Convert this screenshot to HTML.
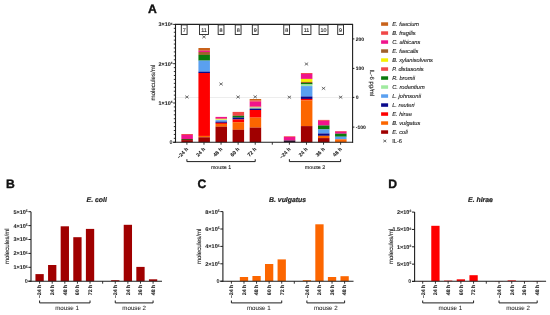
<!DOCTYPE html>
<html><head><meta charset="utf-8"><title>Figure</title>
<style>
html,body{margin:0;padding:0;background:#fff;}
body{width:550px;height:315px;overflow:hidden;}
svg{display:block;font-family:'Liberation Sans', Arial, sans-serif;text-rendering:geometricPrecision;filter:blur(0.3px);}
</style></head>
<body>
<svg width="550" height="315" viewBox="0 0 550 315">
<rect x="0" y="0" width="550" height="315" fill="#fff"/>
<text x="148.10" y="13.40" font-size="12.2" text-anchor="start" font-weight="bold" font-style="normal" fill="#111" stroke="#111" stroke-width="0.35" >A</text>
<line x1="175.50" y1="97.50" x2="352.60" y2="97.50" stroke="#e8e8e8" stroke-width="0.8"/>
<rect x="181.35" y="134.00" width="11.50" height="0.95" fill="#f04848"/>
<rect x="181.35" y="134.90" width="11.50" height="4.15" fill="#f0148c"/>
<rect x="181.35" y="139.00" width="11.50" height="1.15" fill="#4a4a12"/>
<rect x="181.35" y="140.10" width="11.50" height="2.15" fill="#a00000"/>
<rect x="198.43" y="48.00" width="11.50" height="2.75" fill="#c8621a"/>
<rect x="198.43" y="50.70" width="11.50" height="1.35" fill="#f0148c"/>
<rect x="198.43" y="52.00" width="11.50" height="2.95" fill="#a0602a"/>
<rect x="198.43" y="54.90" width="11.50" height="5.75" fill="#0a7a0c"/>
<rect x="198.43" y="60.60" width="11.50" height="11.05" fill="#5aa0f0"/>
<rect x="198.43" y="71.60" width="11.50" height="1.45" fill="#0a0a8c"/>
<rect x="198.43" y="73.00" width="11.50" height="62.95" fill="#fe0000"/>
<rect x="198.43" y="135.90" width="11.50" height="1.45" fill="#fc6600"/>
<rect x="198.43" y="137.30" width="11.50" height="4.95" fill="#a00000"/>
<rect x="215.51" y="116.90" width="11.50" height="1.95" fill="#f0148c"/>
<rect x="215.51" y="118.80" width="11.50" height="0.85" fill="#f5f000"/>
<rect x="215.51" y="119.60" width="11.50" height="0.65" fill="#a0eaa0"/>
<rect x="215.51" y="120.20" width="11.50" height="1.55" fill="#5aa0f0"/>
<rect x="215.51" y="121.70" width="11.50" height="1.15" fill="#0a0a8c"/>
<rect x="215.51" y="122.80" width="11.50" height="1.15" fill="#fe0000"/>
<rect x="215.51" y="123.90" width="11.50" height="2.85" fill="#fc6600"/>
<rect x="215.51" y="126.70" width="11.50" height="15.55" fill="#a00000"/>
<rect x="232.59" y="111.90" width="11.50" height="3.95" fill="#f04848"/>
<rect x="232.59" y="115.80" width="11.50" height="1.85" fill="#0a7a0c"/>
<rect x="232.59" y="117.60" width="11.50" height="1.85" fill="#0a0a8c"/>
<rect x="232.59" y="119.40" width="11.50" height="2.85" fill="#fe0000"/>
<rect x="232.59" y="122.20" width="11.50" height="7.65" fill="#fc6600"/>
<rect x="232.59" y="129.80" width="11.50" height="12.45" fill="#a00000"/>
<rect x="249.67" y="99.00" width="11.50" height="1.65" fill="#c8621a"/>
<rect x="249.67" y="100.60" width="11.50" height="1.15" fill="#f04848"/>
<rect x="249.67" y="101.70" width="11.50" height="4.75" fill="#f0148c"/>
<rect x="249.67" y="106.40" width="11.50" height="1.05" fill="#f04848"/>
<rect x="249.67" y="107.40" width="11.50" height="1.25" fill="#a0eaa0"/>
<rect x="249.67" y="108.60" width="11.50" height="1.45" fill="#0a0a8c"/>
<rect x="249.67" y="110.00" width="11.50" height="7.65" fill="#fe0000"/>
<rect x="249.67" y="117.60" width="11.50" height="10.05" fill="#fc6600"/>
<rect x="249.67" y="127.60" width="11.50" height="14.65" fill="#a00000"/>
<rect x="283.83" y="136.30" width="11.50" height="0.75" fill="#f04848"/>
<rect x="283.83" y="137.00" width="11.50" height="3.55" fill="#f0148c"/>
<rect x="283.83" y="140.50" width="11.50" height="1.75" fill="#2a0a28"/>
<rect x="300.91" y="73.00" width="11.50" height="0.95" fill="#f04848"/>
<rect x="300.91" y="73.90" width="11.50" height="5.05" fill="#f0148c"/>
<rect x="300.91" y="78.90" width="11.50" height="3.05" fill="#f5f000"/>
<rect x="300.91" y="81.90" width="11.50" height="1.15" fill="#a0602a"/>
<rect x="300.91" y="83.00" width="11.50" height="1.45" fill="#0a7a0c"/>
<rect x="300.91" y="84.40" width="11.50" height="1.75" fill="#a0eaa0"/>
<rect x="300.91" y="86.10" width="11.50" height="10.45" fill="#5aa0f0"/>
<rect x="300.91" y="96.50" width="11.50" height="2.45" fill="#0a0a8c"/>
<rect x="300.91" y="98.90" width="11.50" height="1.45" fill="#fe0000"/>
<rect x="300.91" y="100.30" width="11.50" height="25.85" fill="#fc6600"/>
<rect x="300.91" y="126.10" width="11.50" height="16.15" fill="#a00000"/>
<rect x="317.99" y="119.90" width="11.50" height="0.95" fill="#f04848"/>
<rect x="317.99" y="120.80" width="11.50" height="4.75" fill="#f0148c"/>
<rect x="317.99" y="125.50" width="11.50" height="3.95" fill="#0a7a0c"/>
<rect x="317.99" y="129.40" width="11.50" height="4.15" fill="#5aa0f0"/>
<rect x="317.99" y="133.50" width="11.50" height="2.35" fill="#0a0a8c"/>
<rect x="317.99" y="135.80" width="11.50" height="2.35" fill="#fc6600"/>
<rect x="317.99" y="138.10" width="11.50" height="4.15" fill="#a00000"/>
<rect x="335.07" y="131.00" width="11.50" height="0.75" fill="#f04848"/>
<rect x="335.07" y="131.70" width="11.50" height="2.05" fill="#f0148c"/>
<rect x="335.07" y="133.70" width="11.50" height="3.05" fill="#0a7a0c"/>
<rect x="335.07" y="136.70" width="11.50" height="2.65" fill="#5aa0f0"/>
<rect x="335.07" y="139.30" width="11.50" height="2.95" fill="#fc6600"/>
<line x1="185.20" y1="95.64" x2="188.60" y2="98.36" stroke="#444" stroke-width="0.75"/>
<line x1="185.20" y1="98.36" x2="188.60" y2="95.64" stroke="#444" stroke-width="0.75"/>
<line x1="202.28" y1="35.54" x2="205.68" y2="38.26" stroke="#444" stroke-width="0.75"/>
<line x1="202.28" y1="38.26" x2="205.68" y2="35.54" stroke="#444" stroke-width="0.75"/>
<line x1="219.36" y1="82.64" x2="222.76" y2="85.36" stroke="#444" stroke-width="0.75"/>
<line x1="219.36" y1="85.36" x2="222.76" y2="82.64" stroke="#444" stroke-width="0.75"/>
<line x1="236.44" y1="95.64" x2="239.84" y2="98.36" stroke="#444" stroke-width="0.75"/>
<line x1="236.44" y1="98.36" x2="239.84" y2="95.64" stroke="#444" stroke-width="0.75"/>
<line x1="253.52" y1="95.44" x2="256.92" y2="98.16" stroke="#444" stroke-width="0.75"/>
<line x1="253.52" y1="98.16" x2="256.92" y2="95.44" stroke="#444" stroke-width="0.75"/>
<line x1="287.68" y1="95.84" x2="291.08" y2="98.56" stroke="#444" stroke-width="0.75"/>
<line x1="287.68" y1="98.56" x2="291.08" y2="95.84" stroke="#444" stroke-width="0.75"/>
<line x1="304.76" y1="62.64" x2="308.16" y2="65.36" stroke="#444" stroke-width="0.75"/>
<line x1="304.76" y1="65.36" x2="308.16" y2="62.64" stroke="#444" stroke-width="0.75"/>
<line x1="321.84" y1="87.04" x2="325.24" y2="89.76" stroke="#444" stroke-width="0.75"/>
<line x1="321.84" y1="89.76" x2="325.24" y2="87.04" stroke="#444" stroke-width="0.75"/>
<line x1="338.92" y1="95.84" x2="342.32" y2="98.56" stroke="#444" stroke-width="0.75"/>
<line x1="338.92" y1="98.56" x2="342.32" y2="95.84" stroke="#444" stroke-width="0.75"/>
<line x1="175.50" y1="24.40" x2="175.50" y2="142.70" stroke="#1e1e1e" stroke-width="1.1"/>
<line x1="352.60" y1="24.40" x2="352.60" y2="142.70" stroke="#1e1e1e" stroke-width="1.1"/>
<line x1="175.00" y1="24.40" x2="353.10" y2="24.40" stroke="#1e1e1e" stroke-width="1.1"/>
<line x1="173.20" y1="142.20" x2="353.10" y2="142.20" stroke="#1e1e1e" stroke-width="1.1"/>
<line x1="173.20" y1="142.30" x2="175.50" y2="142.30" stroke="#1e1e1e" stroke-width="1.0"/>
<line x1="173.80" y1="138.37" x2="175.50" y2="138.37" stroke="#1e1e1e" stroke-width="0.9"/>
<line x1="173.80" y1="134.44" x2="175.50" y2="134.44" stroke="#1e1e1e" stroke-width="0.9"/>
<line x1="173.80" y1="130.51" x2="175.50" y2="130.51" stroke="#1e1e1e" stroke-width="0.9"/>
<line x1="173.80" y1="126.58" x2="175.50" y2="126.58" stroke="#1e1e1e" stroke-width="0.9"/>
<line x1="173.80" y1="122.65" x2="175.50" y2="122.65" stroke="#1e1e1e" stroke-width="0.9"/>
<line x1="173.80" y1="118.72" x2="175.50" y2="118.72" stroke="#1e1e1e" stroke-width="0.9"/>
<line x1="173.80" y1="114.79" x2="175.50" y2="114.79" stroke="#1e1e1e" stroke-width="0.9"/>
<line x1="173.80" y1="110.86" x2="175.50" y2="110.86" stroke="#1e1e1e" stroke-width="0.9"/>
<line x1="173.80" y1="106.93" x2="175.50" y2="106.93" stroke="#1e1e1e" stroke-width="0.9"/>
<line x1="173.20" y1="103.00" x2="175.50" y2="103.00" stroke="#1e1e1e" stroke-width="1.0"/>
<line x1="173.80" y1="99.07" x2="175.50" y2="99.07" stroke="#1e1e1e" stroke-width="0.9"/>
<line x1="173.80" y1="95.14" x2="175.50" y2="95.14" stroke="#1e1e1e" stroke-width="0.9"/>
<line x1="173.80" y1="91.21" x2="175.50" y2="91.21" stroke="#1e1e1e" stroke-width="0.9"/>
<line x1="173.80" y1="87.28" x2="175.50" y2="87.28" stroke="#1e1e1e" stroke-width="0.9"/>
<line x1="173.80" y1="83.35" x2="175.50" y2="83.35" stroke="#1e1e1e" stroke-width="0.9"/>
<line x1="173.80" y1="79.42" x2="175.50" y2="79.42" stroke="#1e1e1e" stroke-width="0.9"/>
<line x1="173.80" y1="75.49" x2="175.50" y2="75.49" stroke="#1e1e1e" stroke-width="0.9"/>
<line x1="173.80" y1="71.56" x2="175.50" y2="71.56" stroke="#1e1e1e" stroke-width="0.9"/>
<line x1="173.80" y1="67.63" x2="175.50" y2="67.63" stroke="#1e1e1e" stroke-width="0.9"/>
<line x1="173.20" y1="63.70" x2="175.50" y2="63.70" stroke="#1e1e1e" stroke-width="1.0"/>
<line x1="173.80" y1="59.77" x2="175.50" y2="59.77" stroke="#1e1e1e" stroke-width="0.9"/>
<line x1="173.80" y1="55.84" x2="175.50" y2="55.84" stroke="#1e1e1e" stroke-width="0.9"/>
<line x1="173.80" y1="51.91" x2="175.50" y2="51.91" stroke="#1e1e1e" stroke-width="0.9"/>
<line x1="173.80" y1="47.98" x2="175.50" y2="47.98" stroke="#1e1e1e" stroke-width="0.9"/>
<line x1="173.80" y1="44.05" x2="175.50" y2="44.05" stroke="#1e1e1e" stroke-width="0.9"/>
<line x1="173.80" y1="40.12" x2="175.50" y2="40.12" stroke="#1e1e1e" stroke-width="0.9"/>
<line x1="173.80" y1="36.19" x2="175.50" y2="36.19" stroke="#1e1e1e" stroke-width="0.9"/>
<line x1="173.80" y1="32.26" x2="175.50" y2="32.26" stroke="#1e1e1e" stroke-width="0.9"/>
<line x1="173.80" y1="28.33" x2="175.50" y2="28.33" stroke="#1e1e1e" stroke-width="0.9"/>
<line x1="173.20" y1="24.40" x2="175.50" y2="24.40" stroke="#1e1e1e" stroke-width="1.0"/>
<text x="172.60" y="144.20" font-size="5.4" text-anchor="end" font-weight="bold" font-style="normal" fill="#1e1e1e" >0</text>
<text x="172.60" y="104.90" font-size="5.4" text-anchor="end" font-weight="bold" font-style="normal" fill="#1e1e1e" stroke="#1e1e1e" stroke-width="0.08" >1×10<tspan font-size="3.35" dy="-1.62">6</tspan></text>
<text x="172.60" y="65.60" font-size="5.4" text-anchor="end" font-weight="bold" font-style="normal" fill="#1e1e1e" stroke="#1e1e1e" stroke-width="0.08" >2×10<tspan font-size="3.35" dy="-1.62">6</tspan></text>
<text x="172.60" y="26.30" font-size="5.4" text-anchor="end" font-weight="bold" font-style="normal" fill="#1e1e1e" stroke="#1e1e1e" stroke-width="0.08" >3×10<tspan font-size="3.35" dy="-1.62">6</tspan></text>
<text transform="translate(155.0,82.6) rotate(-90)" font-size="6.1" text-anchor="middle" fill="#1e1e1e" stroke="#1e1e1e" stroke-width="0.12">molecules/ml</text>
<line x1="352.60" y1="38.90" x2="354.40" y2="38.90" stroke="#1e1e1e" stroke-width="1.0"/>
<text x="355.80" y="40.70" font-size="5.0" text-anchor="start" font-weight="bold" font-style="normal" fill="#1e1e1e" stroke="#1e1e1e" stroke-width="0.1" >200</text>
<line x1="352.60" y1="68.40" x2="354.40" y2="68.40" stroke="#1e1e1e" stroke-width="1.0"/>
<text x="355.80" y="70.20" font-size="5.0" text-anchor="start" font-weight="bold" font-style="normal" fill="#1e1e1e" stroke="#1e1e1e" stroke-width="0.1" >100</text>
<line x1="352.60" y1="97.40" x2="354.40" y2="97.40" stroke="#1e1e1e" stroke-width="1.0"/>
<text x="355.80" y="99.20" font-size="5.0" text-anchor="start" font-weight="bold" font-style="normal" fill="#1e1e1e" stroke="#1e1e1e" stroke-width="0.1" >0</text>
<line x1="352.60" y1="127.10" x2="354.40" y2="127.10" stroke="#1e1e1e" stroke-width="1.0"/>
<text x="355.80" y="128.90" font-size="5.0" text-anchor="start" font-weight="bold" font-style="normal" fill="#1e1e1e" stroke="#1e1e1e" stroke-width="0.1" >-100</text>
<text transform="translate(369.6,82.8) rotate(90)" font-size="6.0" text-anchor="middle" fill="#1e1e1e" stroke="#1e1e1e" stroke-width="0.12">IL-6 pg/ml</text>
<rect x="181.30" y="24.90" width="5.80" height="9.6" fill="#fff" stroke="#222" stroke-width="0.9"/>
<text x="184.20" y="32.00" font-size="5.4" text-anchor="middle" font-weight="normal" font-style="normal" fill="#222" stroke="#222" stroke-width="0.12" >7</text>
<rect x="199.53" y="24.90" width="8.90" height="9.6" fill="#fff" stroke="#222" stroke-width="0.9"/>
<text x="203.98" y="32.00" font-size="5.4" text-anchor="middle" font-weight="normal" font-style="normal" fill="#222" stroke="#222" stroke-width="0.12" >11</text>
<rect x="218.16" y="24.90" width="5.80" height="9.6" fill="#fff" stroke="#222" stroke-width="0.9"/>
<text x="221.06" y="32.00" font-size="5.4" text-anchor="middle" font-weight="normal" font-style="normal" fill="#222" stroke="#222" stroke-width="0.12" >8</text>
<rect x="235.24" y="24.90" width="5.80" height="9.6" fill="#fff" stroke="#222" stroke-width="0.9"/>
<text x="238.14" y="32.00" font-size="5.4" text-anchor="middle" font-weight="normal" font-style="normal" fill="#222" stroke="#222" stroke-width="0.12" >8</text>
<rect x="252.32" y="24.90" width="5.80" height="9.6" fill="#fff" stroke="#222" stroke-width="0.9"/>
<text x="255.22" y="32.00" font-size="5.4" text-anchor="middle" font-weight="normal" font-style="normal" fill="#222" stroke="#222" stroke-width="0.12" >9</text>
<rect x="283.78" y="24.90" width="5.80" height="9.6" fill="#fff" stroke="#222" stroke-width="0.9"/>
<text x="286.68" y="32.00" font-size="5.4" text-anchor="middle" font-weight="normal" font-style="normal" fill="#222" stroke="#222" stroke-width="0.12" >8</text>
<rect x="302.01" y="24.90" width="8.90" height="9.6" fill="#fff" stroke="#222" stroke-width="0.9"/>
<text x="306.46" y="32.00" font-size="5.4" text-anchor="middle" font-weight="normal" font-style="normal" fill="#222" stroke="#222" stroke-width="0.12" >11</text>
<rect x="319.09" y="24.90" width="8.90" height="9.6" fill="#fff" stroke="#222" stroke-width="0.9"/>
<text x="323.54" y="32.00" font-size="5.4" text-anchor="middle" font-weight="normal" font-style="normal" fill="#222" stroke="#222" stroke-width="0.12" >10</text>
<rect x="337.72" y="24.90" width="5.80" height="9.6" fill="#fff" stroke="#222" stroke-width="0.9"/>
<text x="340.62" y="32.00" font-size="5.4" text-anchor="middle" font-weight="normal" font-style="normal" fill="#222" stroke="#222" stroke-width="0.12" >9</text>
<line x1="186.90" y1="142.20" x2="186.90" y2="144.70" stroke="#1e1e1e" stroke-width="0.9"/>
<line x1="203.98" y1="142.20" x2="203.98" y2="144.70" stroke="#1e1e1e" stroke-width="0.9"/>
<line x1="221.06" y1="142.20" x2="221.06" y2="144.70" stroke="#1e1e1e" stroke-width="0.9"/>
<line x1="238.14" y1="142.20" x2="238.14" y2="144.70" stroke="#1e1e1e" stroke-width="0.9"/>
<line x1="255.22" y1="142.20" x2="255.22" y2="144.70" stroke="#1e1e1e" stroke-width="0.9"/>
<line x1="272.30" y1="142.20" x2="272.30" y2="144.70" stroke="#1e1e1e" stroke-width="0.9"/>
<line x1="289.38" y1="142.20" x2="289.38" y2="144.70" stroke="#1e1e1e" stroke-width="0.9"/>
<line x1="306.46" y1="142.20" x2="306.46" y2="144.70" stroke="#1e1e1e" stroke-width="0.9"/>
<line x1="323.54" y1="142.20" x2="323.54" y2="144.70" stroke="#1e1e1e" stroke-width="0.9"/>
<line x1="340.62" y1="142.20" x2="340.62" y2="144.70" stroke="#1e1e1e" stroke-width="0.9"/>
<text transform="translate(188.50,149.60) rotate(-45)" font-size="5.2" font-weight="bold" text-anchor="end" fill="#1e1e1e" stroke="#1e1e1e" stroke-width="0.1">&#8211;24 h</text>
<text transform="translate(205.58,149.60) rotate(-45)" font-size="5.2" font-weight="bold" text-anchor="end" fill="#1e1e1e" stroke="#1e1e1e" stroke-width="0.1">24 h</text>
<text transform="translate(222.66,149.60) rotate(-45)" font-size="5.2" font-weight="bold" text-anchor="end" fill="#1e1e1e" stroke="#1e1e1e" stroke-width="0.1">48 h</text>
<text transform="translate(239.74,149.60) rotate(-45)" font-size="5.2" font-weight="bold" text-anchor="end" fill="#1e1e1e" stroke="#1e1e1e" stroke-width="0.1">60 h</text>
<text transform="translate(256.82,149.60) rotate(-45)" font-size="5.2" font-weight="bold" text-anchor="end" fill="#1e1e1e" stroke="#1e1e1e" stroke-width="0.1">72 h</text>
<text transform="translate(290.98,149.60) rotate(-45)" font-size="5.2" font-weight="bold" text-anchor="end" fill="#1e1e1e" stroke="#1e1e1e" stroke-width="0.1">&#8211;24 h</text>
<text transform="translate(308.06,149.60) rotate(-45)" font-size="5.2" font-weight="bold" text-anchor="end" fill="#1e1e1e" stroke="#1e1e1e" stroke-width="0.1">24 h</text>
<text transform="translate(325.14,149.60) rotate(-45)" font-size="5.2" font-weight="bold" text-anchor="end" fill="#1e1e1e" stroke="#1e1e1e" stroke-width="0.1">36 h</text>
<text transform="translate(342.22,149.60) rotate(-45)" font-size="5.2" font-weight="bold" text-anchor="end" fill="#1e1e1e" stroke="#1e1e1e" stroke-width="0.1">48 h</text>
<polyline points="186.90,159.20 186.90,161.60 255.22,161.60 255.22,159.20" fill="none" stroke="#1e1e1e" stroke-width="1.0"/>
<polyline points="289.38,159.20 289.38,161.60 340.62,161.60 340.62,159.20" fill="none" stroke="#1e1e1e" stroke-width="1.0"/>
<text x="221.06" y="168.60" font-size="5.3" text-anchor="middle" font-weight="normal" font-style="normal" fill="#1e1e1e" stroke="#1e1e1e" stroke-width="0.12" >mouse 1</text>
<text x="315.00" y="168.60" font-size="5.3" text-anchor="middle" font-weight="normal" font-style="normal" fill="#1e1e1e" stroke="#1e1e1e" stroke-width="0.12" >mouse 2</text>
<rect x="381.10" y="22.30" width="7.00" height="3.50" fill="#c8621a"/>
<text x="392.20" y="26.00" font-size="5.7" text-anchor="start" font-weight="normal" font-style="italic" fill="#1e1e1e" stroke="#1e1e1e" stroke-width="0.12" >E. faecium</text>
<rect x="381.10" y="31.30" width="7.00" height="3.50" fill="#f04848"/>
<text x="392.20" y="35.00" font-size="5.7" text-anchor="start" font-weight="normal" font-style="italic" fill="#1e1e1e" stroke="#1e1e1e" stroke-width="0.12" >B. fragilis</text>
<rect x="381.10" y="40.30" width="7.00" height="3.50" fill="#f0148c"/>
<text x="392.20" y="44.00" font-size="5.7" text-anchor="start" font-weight="normal" font-style="italic" fill="#1e1e1e" stroke="#1e1e1e" stroke-width="0.12" >C. albicans</text>
<rect x="381.10" y="49.30" width="7.00" height="3.50" fill="#a0602a"/>
<text x="392.20" y="53.00" font-size="5.7" text-anchor="start" font-weight="normal" font-style="italic" fill="#1e1e1e" stroke="#1e1e1e" stroke-width="0.12" >E. faecalis</text>
<rect x="381.10" y="58.30" width="7.00" height="3.50" fill="#f5f000"/>
<text x="392.20" y="62.00" font-size="5.7" text-anchor="start" font-weight="normal" font-style="italic" fill="#1e1e1e" stroke="#1e1e1e" stroke-width="0.12" >B. xylanisolvens</text>
<rect x="381.10" y="67.30" width="7.00" height="3.50" fill="#f04848"/>
<text x="392.20" y="71.00" font-size="5.7" text-anchor="start" font-weight="normal" font-style="italic" fill="#1e1e1e" stroke="#1e1e1e" stroke-width="0.12" >P. distasonis</text>
<rect x="381.10" y="76.30" width="7.00" height="3.50" fill="#0a7a0c"/>
<text x="392.20" y="80.00" font-size="5.7" text-anchor="start" font-weight="normal" font-style="italic" fill="#1e1e1e" stroke="#1e1e1e" stroke-width="0.12" >R. bromii</text>
<rect x="381.10" y="85.30" width="7.00" height="3.50" fill="#a0eaa0"/>
<text x="392.20" y="89.00" font-size="5.7" text-anchor="start" font-weight="normal" font-style="italic" fill="#1e1e1e" stroke="#1e1e1e" stroke-width="0.12" >C. rodentium</text>
<rect x="381.10" y="94.30" width="7.00" height="3.50" fill="#5aa0f0"/>
<text x="392.20" y="98.00" font-size="5.7" text-anchor="start" font-weight="normal" font-style="italic" fill="#1e1e1e" stroke="#1e1e1e" stroke-width="0.12" >L. johnsonii</text>
<rect x="381.10" y="103.30" width="7.00" height="3.50" fill="#0a0a8c"/>
<text x="392.20" y="107.00" font-size="5.7" text-anchor="start" font-weight="normal" font-style="italic" fill="#1e1e1e" stroke="#1e1e1e" stroke-width="0.12" >L. reuteri</text>
<rect x="381.10" y="112.30" width="7.00" height="3.50" fill="#fe0000"/>
<text x="392.20" y="116.00" font-size="5.7" text-anchor="start" font-weight="normal" font-style="italic" fill="#1e1e1e" stroke="#1e1e1e" stroke-width="0.12" >E. hirae</text>
<rect x="381.10" y="121.30" width="7.00" height="3.50" fill="#fc6600"/>
<text x="392.20" y="125.00" font-size="5.7" text-anchor="start" font-weight="normal" font-style="italic" fill="#1e1e1e" stroke="#1e1e1e" stroke-width="0.12" >B. vulgatus</text>
<rect x="381.10" y="130.30" width="7.00" height="3.50" fill="#a00000"/>
<text x="392.20" y="134.00" font-size="5.7" text-anchor="start" font-weight="normal" font-style="italic" fill="#1e1e1e" stroke="#1e1e1e" stroke-width="0.12" >E. coli</text>
<line x1="383.30" y1="139.80" x2="386.30" y2="142.20" stroke="#333" stroke-width="0.7"/>
<line x1="383.30" y1="142.20" x2="386.30" y2="139.80" stroke="#333" stroke-width="0.7"/>
<text x="392.20" y="143.00" font-size="5.7" text-anchor="start" font-weight="normal" font-style="normal" fill="#1e1e1e" stroke="#1e1e1e" stroke-width="0.12" >IL-6</text>
<text x="6.00" y="188.40" font-size="12.2" text-anchor="start" font-weight="bold" font-style="normal" fill="#111" stroke="#111" stroke-width="0.35" >B</text>
<text x="96.70" y="202.40" font-size="6.9" text-anchor="middle" font-weight="bold" font-style="italic" fill="#1e1e1e" stroke="#1e1e1e" stroke-width="0.2" >E. coli</text>
<rect x="35.45" y="274.10" width="8.30" height="7.10" fill="#a00000"/>
<rect x="48.06" y="265.00" width="8.30" height="16.20" fill="#a00000"/>
<rect x="60.67" y="226.30" width="8.30" height="54.90" fill="#a00000"/>
<rect x="73.28" y="237.20" width="8.30" height="44.00" fill="#a00000"/>
<rect x="85.89" y="228.90" width="8.30" height="52.30" fill="#a00000"/>
<rect x="111.11" y="280.20" width="8.30" height="1.00" fill="#a00000"/>
<rect x="123.72" y="224.80" width="8.30" height="56.40" fill="#a00000"/>
<rect x="136.33" y="266.90" width="8.30" height="14.30" fill="#a00000"/>
<rect x="148.94" y="279.30" width="8.30" height="1.90" fill="#a00000"/>
<line x1="31.00" y1="211.70" x2="31.00" y2="281.70" stroke="#1e1e1e" stroke-width="1.1"/>
<line x1="28.40" y1="281.20" x2="161.99" y2="281.20" stroke="#1e1e1e" stroke-width="1.1"/>
<line x1="28.40" y1="281.20" x2="31.00" y2="281.20" stroke="#1e1e1e" stroke-width="1.0"/>
<line x1="28.40" y1="267.30" x2="31.00" y2="267.30" stroke="#1e1e1e" stroke-width="1.0"/>
<line x1="28.40" y1="253.40" x2="31.00" y2="253.40" stroke="#1e1e1e" stroke-width="1.0"/>
<line x1="28.40" y1="239.50" x2="31.00" y2="239.50" stroke="#1e1e1e" stroke-width="1.0"/>
<line x1="28.40" y1="225.60" x2="31.00" y2="225.60" stroke="#1e1e1e" stroke-width="1.0"/>
<line x1="28.40" y1="211.70" x2="31.00" y2="211.70" stroke="#1e1e1e" stroke-width="1.0"/>
<text x="27.70" y="283.10" font-size="5.5" text-anchor="end" font-weight="bold" font-style="normal" fill="#1e1e1e" >0</text>
<text x="27.70" y="269.20" font-size="5.5" text-anchor="end" font-weight="bold" font-style="normal" fill="#1e1e1e" stroke="#1e1e1e" stroke-width="0.08" >1×10<tspan font-size="3.41" dy="-1.65">5</tspan></text>
<text x="27.70" y="255.30" font-size="5.5" text-anchor="end" font-weight="bold" font-style="normal" fill="#1e1e1e" stroke="#1e1e1e" stroke-width="0.08" >2×10<tspan font-size="3.41" dy="-1.65">5</tspan></text>
<text x="27.70" y="241.40" font-size="5.5" text-anchor="end" font-weight="bold" font-style="normal" fill="#1e1e1e" stroke="#1e1e1e" stroke-width="0.08" >3×10<tspan font-size="3.41" dy="-1.65">5</tspan></text>
<text x="27.70" y="227.50" font-size="5.5" text-anchor="end" font-weight="bold" font-style="normal" fill="#1e1e1e" stroke="#1e1e1e" stroke-width="0.08" >4×10<tspan font-size="3.41" dy="-1.65">5</tspan></text>
<text x="27.70" y="213.60" font-size="5.5" text-anchor="end" font-weight="bold" font-style="normal" fill="#1e1e1e" stroke="#1e1e1e" stroke-width="0.08" >5×10<tspan font-size="3.41" dy="-1.65">5</tspan></text>
<text transform="translate(9.30,246.20) rotate(-90)" font-size="6.1" text-anchor="middle" fill="#1e1e1e" stroke="#1e1e1e" stroke-width="0.12">molecules/ml</text>
<line x1="39.60" y1="281.20" x2="39.60" y2="283.70" stroke="#1e1e1e" stroke-width="0.9"/>
<text transform="translate(41.40,284.80) rotate(-90)" font-size="5.2" font-weight="bold" text-anchor="end" fill="#1e1e1e" stroke="#1e1e1e" stroke-width="0.1">&#8211;24 h</text>
<line x1="52.21" y1="281.20" x2="52.21" y2="283.70" stroke="#1e1e1e" stroke-width="0.9"/>
<text transform="translate(54.01,284.80) rotate(-90)" font-size="5.2" font-weight="bold" text-anchor="end" fill="#1e1e1e" stroke="#1e1e1e" stroke-width="0.1">24 h</text>
<line x1="64.82" y1="281.20" x2="64.82" y2="283.70" stroke="#1e1e1e" stroke-width="0.9"/>
<text transform="translate(66.62,284.80) rotate(-90)" font-size="5.2" font-weight="bold" text-anchor="end" fill="#1e1e1e" stroke="#1e1e1e" stroke-width="0.1">48 h</text>
<line x1="77.43" y1="281.20" x2="77.43" y2="283.70" stroke="#1e1e1e" stroke-width="0.9"/>
<text transform="translate(79.23,284.80) rotate(-90)" font-size="5.2" font-weight="bold" text-anchor="end" fill="#1e1e1e" stroke="#1e1e1e" stroke-width="0.1">60 h</text>
<line x1="90.04" y1="281.20" x2="90.04" y2="283.70" stroke="#1e1e1e" stroke-width="0.9"/>
<text transform="translate(91.84,284.80) rotate(-90)" font-size="5.2" font-weight="bold" text-anchor="end" fill="#1e1e1e" stroke="#1e1e1e" stroke-width="0.1">72 h</text>
<line x1="102.65" y1="281.20" x2="102.65" y2="283.70" stroke="#1e1e1e" stroke-width="0.9"/>
<line x1="115.26" y1="281.20" x2="115.26" y2="283.70" stroke="#1e1e1e" stroke-width="0.9"/>
<text transform="translate(117.06,284.80) rotate(-90)" font-size="5.2" font-weight="bold" text-anchor="end" fill="#1e1e1e" stroke="#1e1e1e" stroke-width="0.1">&#8211;24 h</text>
<line x1="127.87" y1="281.20" x2="127.87" y2="283.70" stroke="#1e1e1e" stroke-width="0.9"/>
<text transform="translate(129.67,284.80) rotate(-90)" font-size="5.2" font-weight="bold" text-anchor="end" fill="#1e1e1e" stroke="#1e1e1e" stroke-width="0.1">24 h</text>
<line x1="140.48" y1="281.20" x2="140.48" y2="283.70" stroke="#1e1e1e" stroke-width="0.9"/>
<text transform="translate(142.28,284.80) rotate(-90)" font-size="5.2" font-weight="bold" text-anchor="end" fill="#1e1e1e" stroke="#1e1e1e" stroke-width="0.1">36 h</text>
<line x1="153.09" y1="281.20" x2="153.09" y2="283.70" stroke="#1e1e1e" stroke-width="0.9"/>
<text transform="translate(154.89,284.80) rotate(-90)" font-size="5.2" font-weight="bold" text-anchor="end" fill="#1e1e1e" stroke="#1e1e1e" stroke-width="0.1">48 h</text>
<polyline points="39.60,300.50 39.60,302.90 90.04,302.90 90.04,300.50" fill="none" stroke="#1e1e1e" stroke-width="1.0"/>
<polyline points="115.26,300.50 115.26,302.90 153.09,302.90 153.09,300.50" fill="none" stroke="#1e1e1e" stroke-width="1.0"/>
<text x="67.02" y="310.00" font-size="6.2" text-anchor="middle" font-weight="normal" font-style="normal" fill="#1e1e1e" stroke="#1e1e1e" stroke-width="0.05" >mouse 1</text>
<text x="134.18" y="310.00" font-size="6.2" text-anchor="middle" font-weight="normal" font-style="normal" fill="#1e1e1e" stroke="#1e1e1e" stroke-width="0.05" >mouse 2</text>
<text x="197.40" y="188.40" font-size="12.2" text-anchor="start" font-weight="bold" font-style="normal" fill="#111" stroke="#111" stroke-width="0.35" >C</text>
<text x="287.60" y="202.40" font-size="6.9" text-anchor="middle" font-weight="bold" font-style="italic" fill="#1e1e1e" stroke="#1e1e1e" stroke-width="0.2" >B. vulgatus</text>
<rect x="227.25" y="281.00" width="8.30" height="0.20" fill="#fc6600"/>
<rect x="239.83" y="277.00" width="8.30" height="4.20" fill="#fc6600"/>
<rect x="252.41" y="276.00" width="8.30" height="5.20" fill="#fc6600"/>
<rect x="264.99" y="264.00" width="8.30" height="17.20" fill="#fc6600"/>
<rect x="277.57" y="259.40" width="8.30" height="21.80" fill="#fc6600"/>
<rect x="302.73" y="280.20" width="8.30" height="1.00" fill="#fc6600"/>
<rect x="315.31" y="224.30" width="8.30" height="56.90" fill="#fc6600"/>
<rect x="327.89" y="277.00" width="8.30" height="4.20" fill="#fc6600"/>
<rect x="340.47" y="276.20" width="8.30" height="5.00" fill="#fc6600"/>
<line x1="222.90" y1="211.60" x2="222.90" y2="281.70" stroke="#1e1e1e" stroke-width="1.1"/>
<line x1="220.30" y1="281.20" x2="353.52" y2="281.20" stroke="#1e1e1e" stroke-width="1.1"/>
<line x1="220.30" y1="281.20" x2="222.90" y2="281.20" stroke="#1e1e1e" stroke-width="1.0"/>
<line x1="220.30" y1="263.80" x2="222.90" y2="263.80" stroke="#1e1e1e" stroke-width="1.0"/>
<line x1="220.30" y1="246.40" x2="222.90" y2="246.40" stroke="#1e1e1e" stroke-width="1.0"/>
<line x1="220.30" y1="229.00" x2="222.90" y2="229.00" stroke="#1e1e1e" stroke-width="1.0"/>
<line x1="220.30" y1="211.60" x2="222.90" y2="211.60" stroke="#1e1e1e" stroke-width="1.0"/>
<text x="219.60" y="283.10" font-size="5.5" text-anchor="end" font-weight="bold" font-style="normal" fill="#1e1e1e" >0</text>
<text x="219.60" y="265.70" font-size="5.5" text-anchor="end" font-weight="bold" font-style="normal" fill="#1e1e1e" stroke="#1e1e1e" stroke-width="0.08" >2×10<tspan font-size="3.41" dy="-1.65">5</tspan></text>
<text x="219.60" y="248.30" font-size="5.5" text-anchor="end" font-weight="bold" font-style="normal" fill="#1e1e1e" stroke="#1e1e1e" stroke-width="0.08" >4×10<tspan font-size="3.41" dy="-1.65">5</tspan></text>
<text x="219.60" y="230.90" font-size="5.5" text-anchor="end" font-weight="bold" font-style="normal" fill="#1e1e1e" stroke="#1e1e1e" stroke-width="0.08" >6×10<tspan font-size="3.41" dy="-1.65">5</tspan></text>
<text x="219.60" y="213.50" font-size="5.5" text-anchor="end" font-weight="bold" font-style="normal" fill="#1e1e1e" stroke="#1e1e1e" stroke-width="0.08" >8×10<tspan font-size="3.41" dy="-1.65">5</tspan></text>
<text transform="translate(201.00,246.30) rotate(-90)" font-size="6.1" text-anchor="middle" fill="#1e1e1e" stroke="#1e1e1e" stroke-width="0.12">molecules/ml</text>
<line x1="231.40" y1="281.20" x2="231.40" y2="283.70" stroke="#1e1e1e" stroke-width="0.9"/>
<text transform="translate(233.20,284.80) rotate(-90)" font-size="5.2" font-weight="bold" text-anchor="end" fill="#1e1e1e" stroke="#1e1e1e" stroke-width="0.1">&#8211;24 h</text>
<line x1="243.98" y1="281.20" x2="243.98" y2="283.70" stroke="#1e1e1e" stroke-width="0.9"/>
<text transform="translate(245.78,284.80) rotate(-90)" font-size="5.2" font-weight="bold" text-anchor="end" fill="#1e1e1e" stroke="#1e1e1e" stroke-width="0.1">24 h</text>
<line x1="256.56" y1="281.20" x2="256.56" y2="283.70" stroke="#1e1e1e" stroke-width="0.9"/>
<text transform="translate(258.36,284.80) rotate(-90)" font-size="5.2" font-weight="bold" text-anchor="end" fill="#1e1e1e" stroke="#1e1e1e" stroke-width="0.1">48 h</text>
<line x1="269.14" y1="281.20" x2="269.14" y2="283.70" stroke="#1e1e1e" stroke-width="0.9"/>
<text transform="translate(270.94,284.80) rotate(-90)" font-size="5.2" font-weight="bold" text-anchor="end" fill="#1e1e1e" stroke="#1e1e1e" stroke-width="0.1">60 h</text>
<line x1="281.72" y1="281.20" x2="281.72" y2="283.70" stroke="#1e1e1e" stroke-width="0.9"/>
<text transform="translate(283.52,284.80) rotate(-90)" font-size="5.2" font-weight="bold" text-anchor="end" fill="#1e1e1e" stroke="#1e1e1e" stroke-width="0.1">72 h</text>
<line x1="294.30" y1="281.20" x2="294.30" y2="283.70" stroke="#1e1e1e" stroke-width="0.9"/>
<line x1="306.88" y1="281.20" x2="306.88" y2="283.70" stroke="#1e1e1e" stroke-width="0.9"/>
<text transform="translate(308.68,284.80) rotate(-90)" font-size="5.2" font-weight="bold" text-anchor="end" fill="#1e1e1e" stroke="#1e1e1e" stroke-width="0.1">&#8211;24 h</text>
<line x1="319.46" y1="281.20" x2="319.46" y2="283.70" stroke="#1e1e1e" stroke-width="0.9"/>
<text transform="translate(321.26,284.80) rotate(-90)" font-size="5.2" font-weight="bold" text-anchor="end" fill="#1e1e1e" stroke="#1e1e1e" stroke-width="0.1">24 h</text>
<line x1="332.04" y1="281.20" x2="332.04" y2="283.70" stroke="#1e1e1e" stroke-width="0.9"/>
<text transform="translate(333.84,284.80) rotate(-90)" font-size="5.2" font-weight="bold" text-anchor="end" fill="#1e1e1e" stroke="#1e1e1e" stroke-width="0.1">36 h</text>
<line x1="344.62" y1="281.20" x2="344.62" y2="283.70" stroke="#1e1e1e" stroke-width="0.9"/>
<text transform="translate(346.42,284.80) rotate(-90)" font-size="5.2" font-weight="bold" text-anchor="end" fill="#1e1e1e" stroke="#1e1e1e" stroke-width="0.1">48 h</text>
<polyline points="231.40,300.50 231.40,302.90 281.72,302.90 281.72,300.50" fill="none" stroke="#1e1e1e" stroke-width="1.0"/>
<polyline points="306.88,300.50 306.88,302.90 344.62,302.90 344.62,300.50" fill="none" stroke="#1e1e1e" stroke-width="1.0"/>
<text x="258.76" y="310.00" font-size="6.2" text-anchor="middle" font-weight="normal" font-style="normal" fill="#1e1e1e" stroke="#1e1e1e" stroke-width="0.05" >mouse 1</text>
<text x="325.75" y="310.00" font-size="6.2" text-anchor="middle" font-weight="normal" font-style="normal" fill="#1e1e1e" stroke="#1e1e1e" stroke-width="0.05" >mouse 2</text>
<text x="388.20" y="188.40" font-size="12.2" text-anchor="start" font-weight="bold" font-style="normal" fill="#111" stroke="#111" stroke-width="0.35" >D</text>
<text x="480.50" y="202.40" font-size="6.9" text-anchor="middle" font-weight="bold" font-style="italic" fill="#1e1e1e" stroke="#1e1e1e" stroke-width="0.2" >E. hirae</text>
<rect x="418.55" y="281.00" width="8.30" height="0.20" fill="#fe0000"/>
<rect x="431.27" y="225.80" width="8.30" height="55.40" fill="#fe0000"/>
<rect x="443.99" y="280.60" width="8.30" height="0.60" fill="#fe0000"/>
<rect x="456.71" y="279.30" width="8.30" height="1.90" fill="#fe0000"/>
<rect x="469.43" y="275.20" width="8.30" height="6.00" fill="#fe0000"/>
<rect x="494.87" y="281.00" width="8.30" height="0.20" fill="#fe0000"/>
<rect x="507.59" y="280.40" width="8.30" height="0.80" fill="#fe0000"/>
<rect x="520.31" y="281.00" width="8.30" height="0.20" fill="#fe0000"/>
<rect x="533.03" y="281.00" width="8.30" height="0.20" fill="#fe0000"/>
<line x1="414.60" y1="212.10" x2="414.60" y2="281.70" stroke="#1e1e1e" stroke-width="1.1"/>
<line x1="412.00" y1="281.20" x2="546.08" y2="281.20" stroke="#1e1e1e" stroke-width="1.1"/>
<line x1="412.00" y1="281.50" x2="414.60" y2="281.50" stroke="#1e1e1e" stroke-width="1.0"/>
<line x1="412.00" y1="264.15" x2="414.60" y2="264.15" stroke="#1e1e1e" stroke-width="1.0"/>
<line x1="412.00" y1="246.80" x2="414.60" y2="246.80" stroke="#1e1e1e" stroke-width="1.0"/>
<line x1="412.00" y1="229.45" x2="414.60" y2="229.45" stroke="#1e1e1e" stroke-width="1.0"/>
<line x1="412.00" y1="212.10" x2="414.60" y2="212.10" stroke="#1e1e1e" stroke-width="1.0"/>
<text x="411.30" y="283.40" font-size="5.5" text-anchor="end" font-weight="bold" font-style="normal" fill="#1e1e1e" >0</text>
<text x="411.30" y="266.05" font-size="5.5" text-anchor="end" font-weight="bold" font-style="normal" fill="#1e1e1e" stroke="#1e1e1e" stroke-width="0.08" >5×10<tspan font-size="3.41" dy="-1.65">5</tspan></text>
<text x="411.30" y="248.70" font-size="5.5" text-anchor="end" font-weight="bold" font-style="normal" fill="#1e1e1e" stroke="#1e1e1e" stroke-width="0.08" >1×10<tspan font-size="3.41" dy="-1.65">6</tspan></text>
<text x="411.30" y="231.35" font-size="5.5" text-anchor="end" font-weight="bold" font-style="normal" fill="#1e1e1e" stroke="#1e1e1e" stroke-width="0.08" >1.5×10<tspan font-size="3.41" dy="-1.65">6</tspan></text>
<text x="411.30" y="214.00" font-size="5.5" text-anchor="end" font-weight="bold" font-style="normal" fill="#1e1e1e" stroke="#1e1e1e" stroke-width="0.08" >2×10<tspan font-size="3.41" dy="-1.65">6</tspan></text>
<text transform="translate(393.00,246.30) rotate(-90)" font-size="6.1" text-anchor="middle" fill="#1e1e1e" stroke="#1e1e1e" stroke-width="0.12">molecules/ml</text>
<line x1="422.70" y1="281.20" x2="422.70" y2="283.70" stroke="#1e1e1e" stroke-width="0.9"/>
<text transform="translate(424.50,284.80) rotate(-90)" font-size="5.2" font-weight="bold" text-anchor="end" fill="#1e1e1e" stroke="#1e1e1e" stroke-width="0.1">&#8211;24 h</text>
<line x1="435.42" y1="281.20" x2="435.42" y2="283.70" stroke="#1e1e1e" stroke-width="0.9"/>
<text transform="translate(437.22,284.80) rotate(-90)" font-size="5.2" font-weight="bold" text-anchor="end" fill="#1e1e1e" stroke="#1e1e1e" stroke-width="0.1">24 h</text>
<line x1="448.14" y1="281.20" x2="448.14" y2="283.70" stroke="#1e1e1e" stroke-width="0.9"/>
<text transform="translate(449.94,284.80) rotate(-90)" font-size="5.2" font-weight="bold" text-anchor="end" fill="#1e1e1e" stroke="#1e1e1e" stroke-width="0.1">48 h</text>
<line x1="460.86" y1="281.20" x2="460.86" y2="283.70" stroke="#1e1e1e" stroke-width="0.9"/>
<text transform="translate(462.66,284.80) rotate(-90)" font-size="5.2" font-weight="bold" text-anchor="end" fill="#1e1e1e" stroke="#1e1e1e" stroke-width="0.1">60 h</text>
<line x1="473.58" y1="281.20" x2="473.58" y2="283.70" stroke="#1e1e1e" stroke-width="0.9"/>
<text transform="translate(475.38,284.80) rotate(-90)" font-size="5.2" font-weight="bold" text-anchor="end" fill="#1e1e1e" stroke="#1e1e1e" stroke-width="0.1">72 h</text>
<line x1="486.30" y1="281.20" x2="486.30" y2="283.70" stroke="#1e1e1e" stroke-width="0.9"/>
<line x1="499.02" y1="281.20" x2="499.02" y2="283.70" stroke="#1e1e1e" stroke-width="0.9"/>
<text transform="translate(500.82,284.80) rotate(-90)" font-size="5.2" font-weight="bold" text-anchor="end" fill="#1e1e1e" stroke="#1e1e1e" stroke-width="0.1">&#8211;24 h</text>
<line x1="511.74" y1="281.20" x2="511.74" y2="283.70" stroke="#1e1e1e" stroke-width="0.9"/>
<text transform="translate(513.54,284.80) rotate(-90)" font-size="5.2" font-weight="bold" text-anchor="end" fill="#1e1e1e" stroke="#1e1e1e" stroke-width="0.1">24 h</text>
<line x1="524.46" y1="281.20" x2="524.46" y2="283.70" stroke="#1e1e1e" stroke-width="0.9"/>
<text transform="translate(526.26,284.80) rotate(-90)" font-size="5.2" font-weight="bold" text-anchor="end" fill="#1e1e1e" stroke="#1e1e1e" stroke-width="0.1">36 h</text>
<line x1="537.18" y1="281.20" x2="537.18" y2="283.70" stroke="#1e1e1e" stroke-width="0.9"/>
<text transform="translate(538.98,284.80) rotate(-90)" font-size="5.2" font-weight="bold" text-anchor="end" fill="#1e1e1e" stroke="#1e1e1e" stroke-width="0.1">48 h</text>
<polyline points="422.70,300.50 422.70,302.90 473.58,302.90 473.58,300.50" fill="none" stroke="#1e1e1e" stroke-width="1.0"/>
<polyline points="499.02,300.50 499.02,302.90 537.18,302.90 537.18,300.50" fill="none" stroke="#1e1e1e" stroke-width="1.0"/>
<text x="450.34" y="310.00" font-size="6.2" text-anchor="middle" font-weight="normal" font-style="normal" fill="#1e1e1e" stroke="#1e1e1e" stroke-width="0.05" >mouse 1</text>
<text x="518.10" y="310.00" font-size="6.2" text-anchor="middle" font-weight="normal" font-style="normal" fill="#1e1e1e" stroke="#1e1e1e" stroke-width="0.05" >mouse 2</text>
</svg>
</body></html>
